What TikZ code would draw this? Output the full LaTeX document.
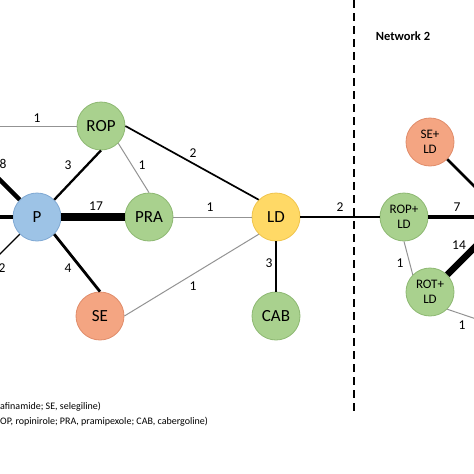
\documentclass[tikz,border=0pt]{standalone}
\usepackage{fontspec}
\setmainfont{Carlito}
\definecolor{drgreen}{HTML}{A9D18E}
\definecolor{drgreenline}{HTML}{8DB872}
\definecolor{drblue}{HTML}{9DC3E6}
\definecolor{drblueline}{HTML}{7FA8D3}
\definecolor{drsalmon}{HTML}{F4A582}
\definecolor{drsalmonline}{HTML}{E08C6A}
\definecolor{dryellow}{HTML}{FFD966}
\definecolor{dryellowline}{HTML}{F0C44C}
\tikzset{
    drug/.style={circle, minimum size=48pt, inner sep=0pt, line width=0.8pt, font=\fontsize{17}{17}\selectfont},
    combo/.style={drug, font=\fontsize{13}{15}\selectfont, align=center},
    weak/.style={draw=gray!85, line width=1pt},
    strong/.style={draw=black, line width=#1},
    wlabel/.style={font=\fontsize{13.5}{14}\selectfont}
}
\begin{document}
\begin{tikzpicture}[x=1pt, y=-1pt]
    \useasboundingbox (0,0) rectangle (474,474);
    \clip (0,0) rectangle (474,474);
    % network 1
    \node[drug, fill=drgreen, draw=drgreenline] (rop) at (101,126) {ROP};
    \node[drug, fill=drblue, draw=drblueline] (p) at (37,217) {P};
    \node[drug, fill=drgreen, draw=drgreenline] (pra) at (149,217) {PRA};
    \node[drug, fill=drsalmon, draw=drsalmonline] (se) at (100,316) {SE};
    \node[drug, fill=dryellow, draw=dryellowline] (ld) at (276,217) {LD};
    \node[drug, fill=drgreen, draw=drgreenline] (cab) at (276,316) {CAB};
    % network 2
    \node[combo, fill=drgreen, draw=drgreenline] (ropld) at (404,217) {ROP+\\LD};
    \node[combo, fill=drsalmon, draw=drsalmonline] (seld) at (430,142) {SE+\\LD};
    \node[combo, fill=drgreen, draw=drgreenline] (rotld) at (430,292) {ROT+\\LD};
    % loose ends
    \coordinate (w1) at (-20,126);
    \coordinate (w2) at (-20,160);
    \coordinate (w3) at (-20,217);
    \coordinate (w4) at (-20,274);
    \coordinate (e1) at (500,217);
    \coordinate (e2) at (500,212);
    \coordinate (e3) at (500,222);
    \coordinate (e4) at (500,327);
    \draw [weak] (w1) -- (rop.west);
    \draw [strong=4.5pt] (w2) -- (p.north west);
    \draw [strong=3.5pt] (w3) -- (p.west);
    \draw [strong=1.2pt] (w4) -- (p.south west);
    \draw [strong=2.3pt] (p.north east) -- (rop.south);
    \draw [weak] (rop.south east) -- (pra.north);
    \draw [strong=1.7pt] (rop.east) -- (ld.north west);
    \draw [strong=8pt] (p.east) -- (pra.west);
    \draw [weak] (pra.east) -- (ld.west);
    \draw [strong=2.8pt] (p.south east) -- (se.north);
    \draw [weak] (se.east) -- (ld.south west);
    \draw [strong=2.3pt] (ld.south) -- (cab.north);
    \draw [strong=1.7pt] (ld.east) -- (ropld.west);
    \draw [strong=3.5pt] (ropld.east) -- (e1);
    \draw [strong=2.8pt] (seld.south east) -- (e2);
    \draw [weak] (ropld.south) -- (rotld.north west);
    \draw [strong=6.5pt] (rotld.north east) -- (e3);
    \draw [weak] (rotld.south east) -- (e4);
    % weights
    \node[wlabel] (l1) at (37,118) {1};
    \node[wlabel] (l2) at (3,164) {8};
    \node[wlabel] (l3) at (2,268) {2};
    \node[wlabel] (l4) at (68,165) {3};
    \node[wlabel] (l5) at (142,165) {1};
    \node[wlabel] (l6) at (193,153) {2};
    \node[wlabel] (l7) at (96,206) {17};
    \node[wlabel] (l8) at (210,207) {1};
    \node[wlabel] (l9) at (68,268) {4};
    \node[wlabel] (l10) at (193,286) {1};
    \node[wlabel] (l11) at (269,263) {3};
    \node[wlabel] (l12) at (340,207) {2};
    \node[wlabel] (l13) at (457,207) {7};
    \node[wlabel] (l14) at (400,263) {1};
    \node[wlabel] (l15) at (459,245) {14};
    \node[wlabel] (l16) at (462,325) {1};
    % divider
    \draw [line width=2pt, dash pattern=on 8pt off 5pt] (354,0) -- (354,412);
    \node[font=\fontsize{12.5}{13}\bfseries\selectfont] (net2) at (403,36) {Network 2};
    % legend
    \node[anchor=west, inner sep=0pt, font=\fontsize{10}{11}\selectfont] (leg1) at (0,407) {afinamide; SE, selegiline)};
    \node[anchor=west, inner sep=0pt, font=\fontsize{10}{11}\selectfont] (leg2) at (0,422) {OP, ropinirole; PRA, pramipexole; CAB, cabergoline)};
\end{tikzpicture}
\end{document}
